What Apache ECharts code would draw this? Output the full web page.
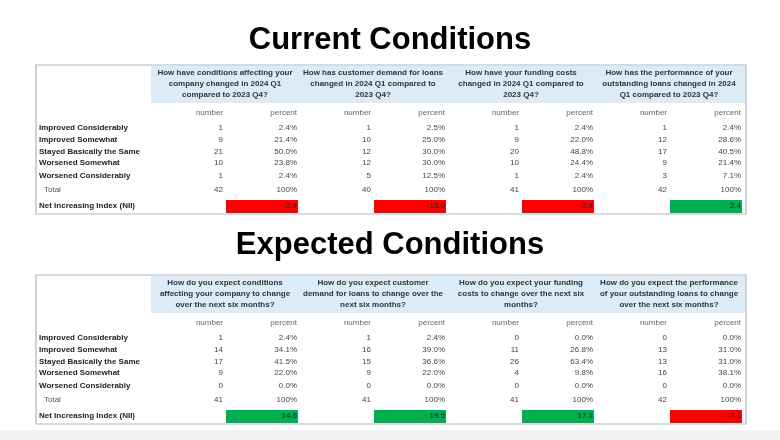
<!DOCTYPE html>
<html>
<head>
<meta charset="utf-8">
<script src="https://cdn.jsdelivr.net/npm/echarts@6/dist/echarts.min.js"></script>
<style>body{margin:0;background:#f2f2f2}</style>
</head>
<body>
<div id="main" style="width:780px;height:440px;"></div>
<script>
var rowLabels = ['Improved Considerably', 'Improved Somewhat', 'Stayed Basically the Same', 'Worsened Somewhat', 'Worsened Considerably'];

// current conditions
var curQuestions = [
    'How have conditions affecting your\ncompany changed in 2024 Q1\ncompared to 2023 Q4?',
    'How has customer demand for loans\nchanged in 2024 Q1 compared to\n2023 Q4?',
    'How have your funding costs\nchanged in 2024 Q1 compared to\n2023 Q4?',
    'How has the performance of your\noutstanding loans changed in 2024\nQ1 compared to 2023 Q4?'
];
var curNumbers = [[1, 9, 21, 10, 1], [1, 10, 12, 12, 5], [1, 9, 20, 10, 1], [1, 12, 17, 9, 3]];
var curPercents = [[2.4, 21.4, 50.0, 23.8, 2.4], [2.5, 25.0, 30.0, 30.0, 12.5], [2.4, 22.0, 48.8, 24.4, 2.4], [2.4, 28.6, 40.5, 21.4, 7.1]];
var curTotals = [42, 40, 41, 42];
var curNII = [-2.4, -15.0, -2.4, 2.4];

// expected conditions
var expQuestions = [
    'How do you expect conditions\naffecting your company to change\nover the next six months?',
    'How do you expect customer\ndemand for loans to change over the\nnext six months?',
    'How do you expect your funding\ncosts to change over the next six\nmonths?',
    'How do you expect the performance\nof your outstanding loans to change\nover the next six months?'
];
var expNumbers = [[1, 14, 17, 9, 0], [1, 16, 15, 9, 0], [0, 11, 26, 4, 0], [0, 13, 13, 16, 0]];
var expPercents = [[2.4, 34.1, 41.5, 22.0, 0.0], [2.4, 39.0, 36.6, 22.0, 0.0], [0.0, 26.8, 63.4, 9.8, 0.0], [0.0, 31.0, 31.0, 38.1, 0.0]];
var expTotals = [41, 41, 41, 42];
var expNII = [14.6, 19.5, 17.1, -7.1];

var FONT = 'Liberation Sans';
var myChart = echarts.init(document.getElementById('main'));

function txt(x, y, s, opt) {
    opt = opt || {};
    return {
        type: 'text', x: x, y: y, silent: true,
        style: {
            text: s, fontFamily: FONT, fontSize: opt.size || 8,
            fontWeight: opt.bold ? 'bold' : 'normal',
            fill: opt.color || '#222', align: opt.align || 'left',
            verticalAlign: 'middle', lineHeight: opt.lh || 11
        }
    };
}

function buildTable(top, questions, numbers, percents, totals, nii) {
    var els = [];
    els.push({ type: 'rect', shape: { x: 36, y: top, width: 710, height: 149 },
        style: { fill: '#fff', stroke: '#a9b8c8', lineWidth: 1.2 } });
    els.push({ type: 'rect', shape: { x: 151, y: top + 1, width: 594, height: 37 },
        style: { fill: '#dcebf8' } });
    var rowY = [top + 63, top + 75, top + 87, top + 98, top + 111];
    rowLabels.forEach(function (l, i) { els.push(txt(39, rowY[i], l, { bold: true })); });
    els.push(txt(44, top + 125, 'Total', { color: '#555' }));
    els.push(txt(39, top + 141, 'Net Increasing Index (NII)', { bold: true }));
    for (var g = 0; g < 4; g++) {
        var gx = 151 + g * 148;
        els.push(txt(gx + 74, top + 19, questions[g], { bold: true, align: 'center', color: '#333' }));
        els.push(txt(gx + 72, top + 48, 'number', { align: 'right', color: '#666' }));
        els.push(txt(gx + 146, top + 48, 'percent', { align: 'right', color: '#666' }));
        for (var r = 0; r < 5; r++) {
            els.push(txt(gx + 72, rowY[r], String(numbers[g][r]), { align: 'right', color: '#444' }));
            els.push(txt(gx + 146, rowY[r], percents[g][r].toFixed(1) + '%', { align: 'right', color: '#444' }));
        }
        els.push(txt(gx + 72, top + 125, String(totals[g]), { align: 'right', color: '#444' }));
        els.push(txt(gx + 146, top + 125, '100%', { align: 'right', color: '#444' }));
        els.push({ type: 'rect', shape: { x: gx + 75, y: top + 135, width: 72, height: 13 },
            style: { fill: nii[g] < 0 ? '#ff0000' : '#00b050' } });
        els.push(txt(gx + 146, top + 141, nii[g].toFixed(1), { align: 'right', color: '#222' }));
    }
    return els;
}

var elements = [
    { type: 'rect', shape: { x: 0, y: 0, width: 780, height: 430 }, style: { fill: '#ffffff' } },
    txt(390, 40, 'Current Conditions', { size: 31, bold: true, align: 'center', color: '#000', lh: 36 }),
    txt(390, 245, 'Expected Conditions', { size: 31, bold: true, align: 'center', color: '#000', lh: 36 })
].concat(buildTable(65, curQuestions, curNumbers, curPercents, curTotals, curNII))
 .concat(buildTable(275, expQuestions, expNumbers, expPercents, expTotals, expNII));

option = {
    backgroundColor: '#f2f2f2',
    graphic: { elements: elements }
};
myChart.setOption(option);
</script>
</body>
</html>
